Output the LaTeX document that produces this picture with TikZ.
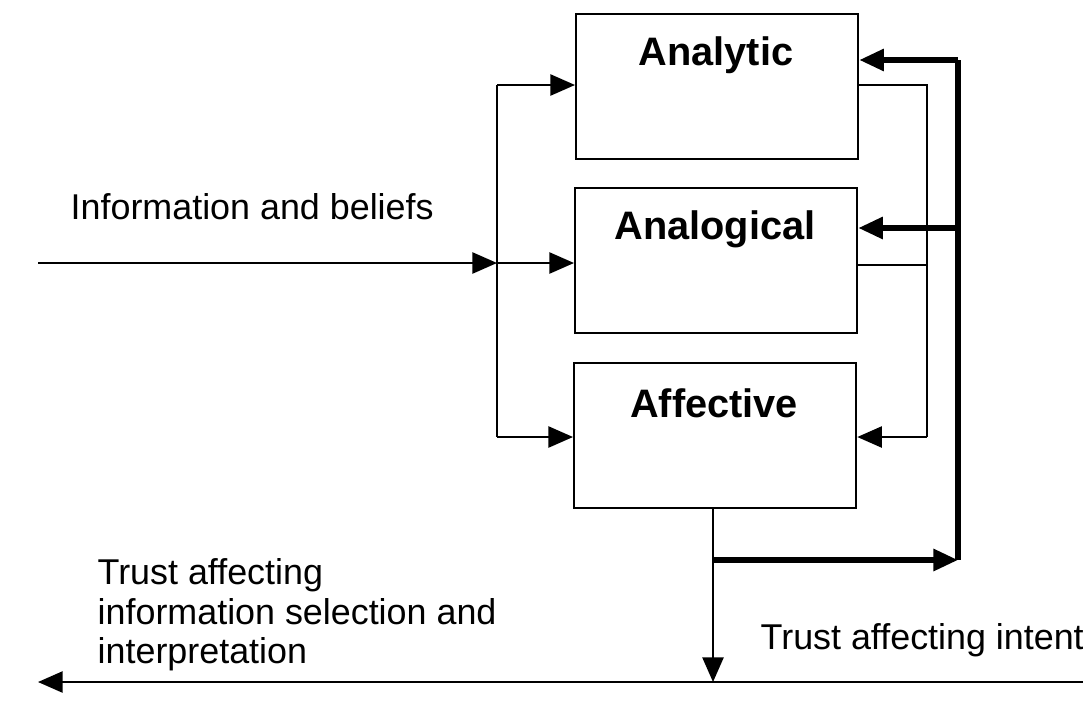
\documentclass[tikz,border=0pt]{standalone}
\usepackage{fontspec}
\setmainfont{Liberation Sans}
\usetikzlibrary{arrows.meta}
\begin{document}
\begin{tikzpicture}[x=0.01cm,y=-0.01cm,
  box/.style={draw,line width=0.6pt,minimum width=2.82cm,minimum height=1.45cm,anchor=north west,inner sep=0},
  lab/.style={font=\bfseries\fontsize{11.3pt}{13pt}\selectfont},
  txt/.style={font=\fontsize{10.2pt}{11.2pt}\selectfont,align=left,inner sep=0},
  thin/.style={line width=0.6pt},
  thick/.style={line width=1.6pt},
  arr/.style={-{Triangle[length=7pt,width=6pt]}}]
\useasboundingbox (0,0) rectangle (1083,712);
\node[box] (an) at (575,13) {};
\node[box] (ag) at (574,187) {};
\node[box] (af) at (573,362) {};
\node[lab] at (716,55) {Analytic};
\node[lab] at (715,229) {Analogical};
\node[lab] at (714,403) {Affective};
\coordinate (s) at (38,263);
\coordinate (j) at (497,263);
\coordinate (jt) at (497,85);
\coordinate (jb) at (497,437);
\draw[thin,arr] (s) -- (j);
\draw[thin] (jt) -- (jb);
\draw[thin,arr] (jt) -- (an.west|-jt);
\draw[thin,arr] (j) -- (ag.west|-j);
\draw[thin,arr] (jb) -- (af.west|-jb);
\coordinate (r1) at (927,85);
\coordinate (r2) at (927,265);
\coordinate (r3) at (927,437);
\draw[thin] (an.east|-r1) -- (r1) -- (r3);
\draw[thin] (ag.east|-r2) -- (r2);
\draw[thin,arr] (r3) -- (af.east|-r3);
\coordinate (b1) at (713,560);
\coordinate (b2) at (958,560);
\coordinate (t1) at (958,60);
\coordinate (t2) at (958,228);
\coordinate (m) at (713,682);
\coordinate (bl) at (38,682);
\coordinate (br) at (1083,682);
\draw[thin] (af.south-|b1) -- (b1);
\draw[thin,arr] (b1) -- (m);
\draw[thick,arr] (b1) -- (b2);
\draw[thick] (b2) -- (t1);
\draw[thick,arr] (t1) -- (an.east|-t1);
\draw[thick,arr] (t2) -- (ag.east|-t2);
\draw[thin,arr] (br) -- (bl);
\node[txt,anchor=west] at (70,207) {Information and beliefs};
\node[txt,anchor=north west] at (97,558) {Trust affecting\\information selection and\\interpretation};
\node[txt,anchor=west] at (760,640) {Trust affecting intent};
\end{tikzpicture}
\end{document}
